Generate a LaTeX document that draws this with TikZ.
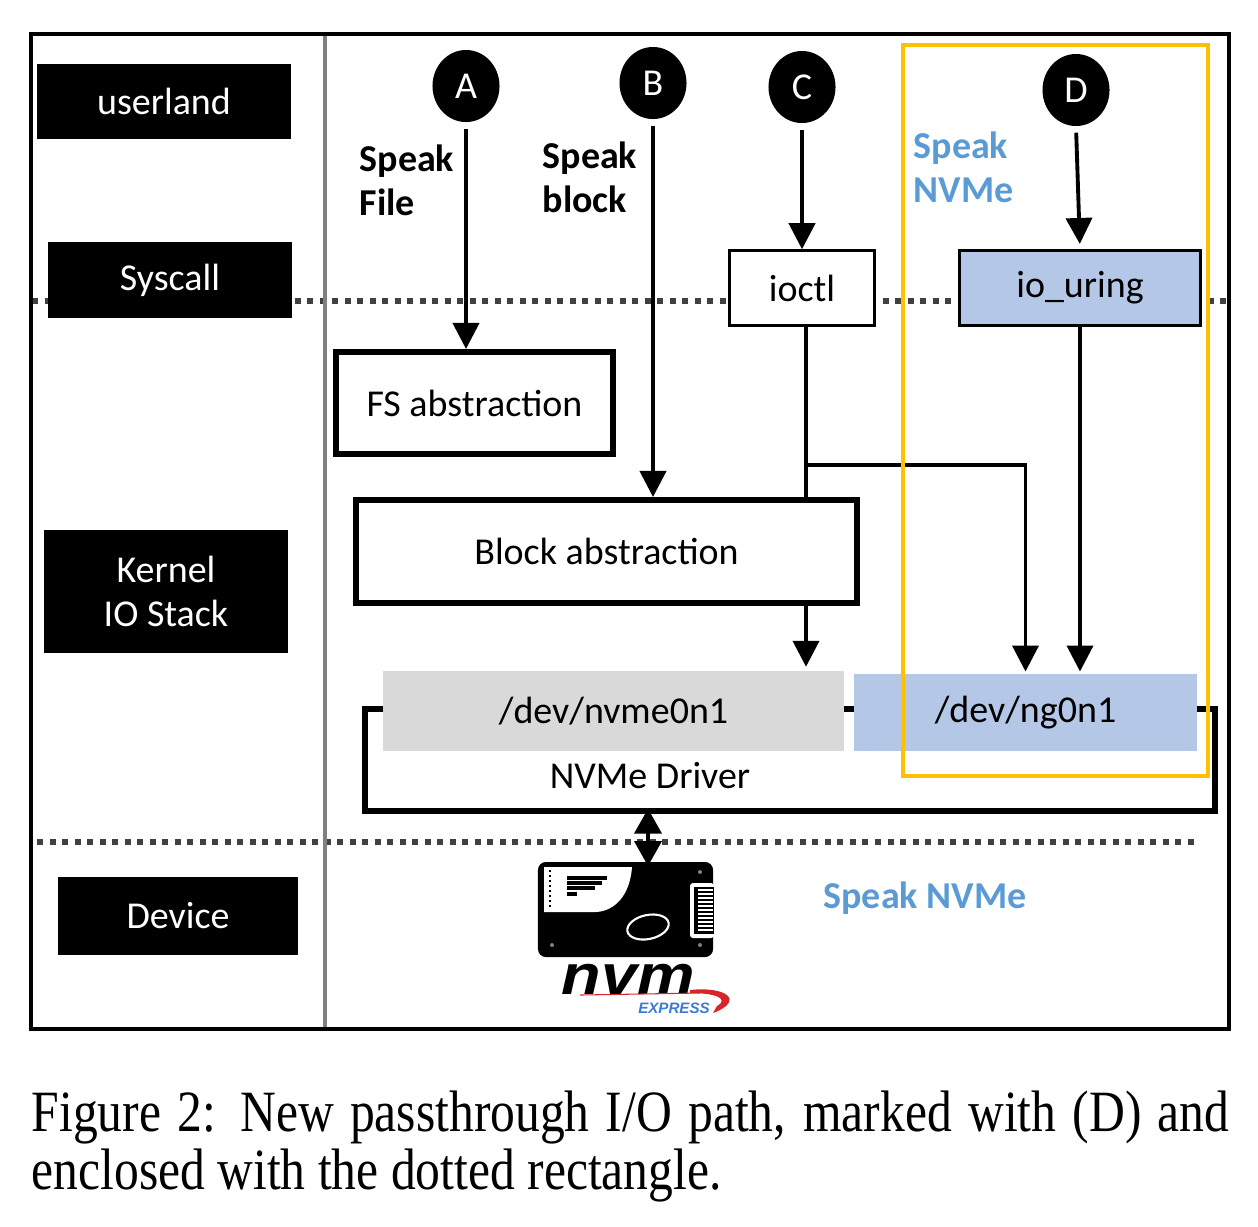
\documentclass[tikz,border=0pt]{standalone}
\usepackage{fontspec}
\setsansfont{Carlito}
\newfontfamily\capfont{Liberation Serif}
\newfontfamily\logofont{Liberation Sans}
\usetikzlibrary{shapes.geometric, arrows.meta, positioning}
\definecolor{nvblue}{HTML}{B4C7E7}
\definecolor{spkblue}{HTML}{5B9BD5}
\definecolor{devgray}{HTML}{D9D9D9}
\definecolor{boxyel}{HTML}{FFC000}
\definecolor{dotgray}{HTML}{404040}
\definecolor{nvred}{HTML}{D7262B}
\definecolor{nvexp}{HTML}{3A7BD5}
\newcommand{\dfont}{\sffamily\fontsize{10.8}{12.6}\selectfont}
\tikzset{
  lbl/.style={fill=black, text=white, inner sep=0pt, align=center},
  io/.style={ellipse, fill=black, text=white, inner sep=0pt, minimum width=0.67cm, minimum height=0.72cm},
  layer/.style={draw, line width=1.7pt, fill=white, inner sep=0pt},
  call/.style={draw, line width=0.85pt, fill=white, inner sep=0pt, minimum height=0.745cm},
  spk/.style={font=\dfont\bfseries, align=left, inner sep=0pt},
  sep/.style={dotgray, line width=1.7pt, dash pattern=on 0.06cm off 0.065cm},
  arr/.style={-{Triangle[width=0.26cm,length=0.26cm]}, line width=1.1pt},
  dbl/.style={{Triangle[width=0.27cm,length=0.25cm]}-{Triangle[width=0.27cm,length=0.25cm]}, line width=1.1pt}
}

\begin{document}
\begin{tikzpicture}[x=0.01cm, y=-0.01cm, font=\dfont]
  \useasboundingbox (0,0) rectangle (1258,1226);
  % layers
  \draw[sep] (32,301) -- (1229,301);
  \draw[sep] (37,842) -- (1197,842);
  \draw[line width=1.4pt, gray] (325,35) -- (325,1029);
  \draw[line width=1.1pt] (31,34) rectangle (1229,1029);

  \node[lbl, minimum width=2.54cm, minimum height=0.75cm] (user) at (164,101.5) {userland};
  \node[lbl, minimum width=2.43cm, minimum height=0.76cm] (sys) at (170,280) {Syscall};
  \node[lbl, minimum width=2.44cm, minimum height=1.23cm] (kern) at (166,591.5) {Kernel\\IO Stack};
  \node[lbl, minimum width=2.40cm, minimum height=0.78cm] (dev) at (178,916) {Device};

  % paths
  \node[io] (A) at (466,86) {A};
  \node[io] (B) at (653,83) {B};
  \node[io] (C) at (802,87) {C};
  \node[io] (D) at (1076,90) {D};
  \node[spk, anchor=west] (tA) at (359,180) {Speak\\File};
  \node[spk, anchor=west] (tB) at (542,177) {Speak\\block};
  \node[spk, anchor=west, text=spkblue] (tD) at (913,167) {Speak\\NVMe};

  \node[call, minimum width=1.45cm] (ioctl) at (802,288) {ioctl};
  \node[call, fill=nvblue, minimum width=2.41cm] (uring) at (1080,288) {io\_uring};
  \node[layer, minimum width=2.76cm, minimum height=1.02cm] (fs) at (474.5,403) {FS abstraction};
  \node[layer, minimum width=5.01cm, minimum height=1.03cm] (blk) at (606.5,551.5) {Block abstraction};

  % driver
  \node[draw, line width=1.7pt, minimum width=8.5cm, minimum height=1.025cm, inner sep=0pt] (drv) at (790,760) {};
  \node (drvlbl) at (650,776) {NVMe Driver};
  \node[fill=devgray, minimum width=4.61cm, minimum height=0.80cm, inner sep=0pt] (nvme) at (613.5,711) {/dev/nvme0n1};
  \node[fill=nvblue, minimum width=3.43cm, minimum height=0.77cm, inner sep=0pt] (ng) at (1025.5,712.5) {/dev/ng0n1};

  \draw[arr, shorten <=1.7pt] (A.south) -- (A.south |- fs.north);
  \draw[arr, shorten <=1.7pt] (B.south) -- (B.south |- blk.north);
  \draw[arr, shorten <=1.7pt] (C.south) -- (ioctl.north);
  \draw[arr, shorten <=1.7pt, shorten >=1.5pt] (D.south) -- (uring.north);
  \coordinate (split) at (806,465);
  \draw[line width=1.1pt] (ioctl.south -| split) -- (split |- blk.north);
  \draw[arr, shorten >=0.5pt] (split) -| (ng.north);
  \draw[arr, shorten >=0.5pt] (uring.south) -- (uring.south |- ng.north);
  \draw[arr, shorten >=1pt] (split |- blk.south) -- (split |- nvme.north);

  % device
  \node[fill=black, rounded corners=0.08cm, minimum width=1.75cm, minimum height=0.95cm, inner sep=0pt] (ssd) at (625.5,909.5) {};
  \coordinate (ssdtop) at (648,866);
  \draw[dbl] ([yshift=1.6pt]ssdtop |- drv.south) -- (ssdtop);
  \fill[white] (544,867) -- (632,867) .. controls (630,895) and (615,911) .. (596,912) -- (544,912) -- cycle;
  \draw[line width=0.6pt, dash pattern=on 0.02cm off 0.03cm] (550,870) -- (550,908);
  \foreach \y/\r in {878/607, 883/602, 888/595, 894/577}
    \draw[line width=1.1pt] (567,\y) -- (\r,\y);
  \draw[white, line width=0.6pt, rotate around={12:(648,927)}] (648,927) ellipse [x radius=0.21cm, y radius=0.12cm];
  \fill[white, rounded corners=0.03cm] (690,883) rectangle (714,938);
  \fill[black] (694,887) rectangle (714,934);
  \foreach \y in {890,894,...,930}
    \draw[white, line width=0.5pt] (698,\y) -- (713,\y);
  \foreach \p in {(552,945),(700,872),(700,945)}
    \fill[gray] \p circle (0.02cm);
  \node[font=\logofont\bfseries\itshape\fontsize{16}{16}\selectfont, inner sep=0pt] (nvm) at (628,979) {\scalebox{1.15}[1]{nvm}};
  \draw[nvred, line width=0.3pt] (580,995) -- (700,993);
  \fill[nvred] (690,990) .. controls (727,986) and (745,1001) .. (713,1013) -- (717,1006) .. controls (729,999) and (717,993) .. (690,993) -- cycle;
  \node[font=\logofont\bfseries\itshape\fontsize{4.3}{4.3}\selectfont, text=nvexp, inner sep=0pt] (nvexp) at (674,1008) {EXPRESS};
  \node[font=\dfont\bfseries, text=spkblue] (spkdev) at (925,898) {Speak NVMe};

  % passthrough
  \draw[boxyel, line width=1.1pt] (903,45) rectangle (1208,776);

  \node[anchor=base west, inner sep=0pt, font=\capfont\fontsize{14.1}{14.2}\selectfont] (cap) at (31,1131)
    {\scalebox{1}[1.18]{\parbox[t]{11.97cm}{Figure 2: New passthrough I/O path, marked with (D) and\linebreak enclosed with the dotted rectangle.}}};
\end{tikzpicture}
\end{document}
